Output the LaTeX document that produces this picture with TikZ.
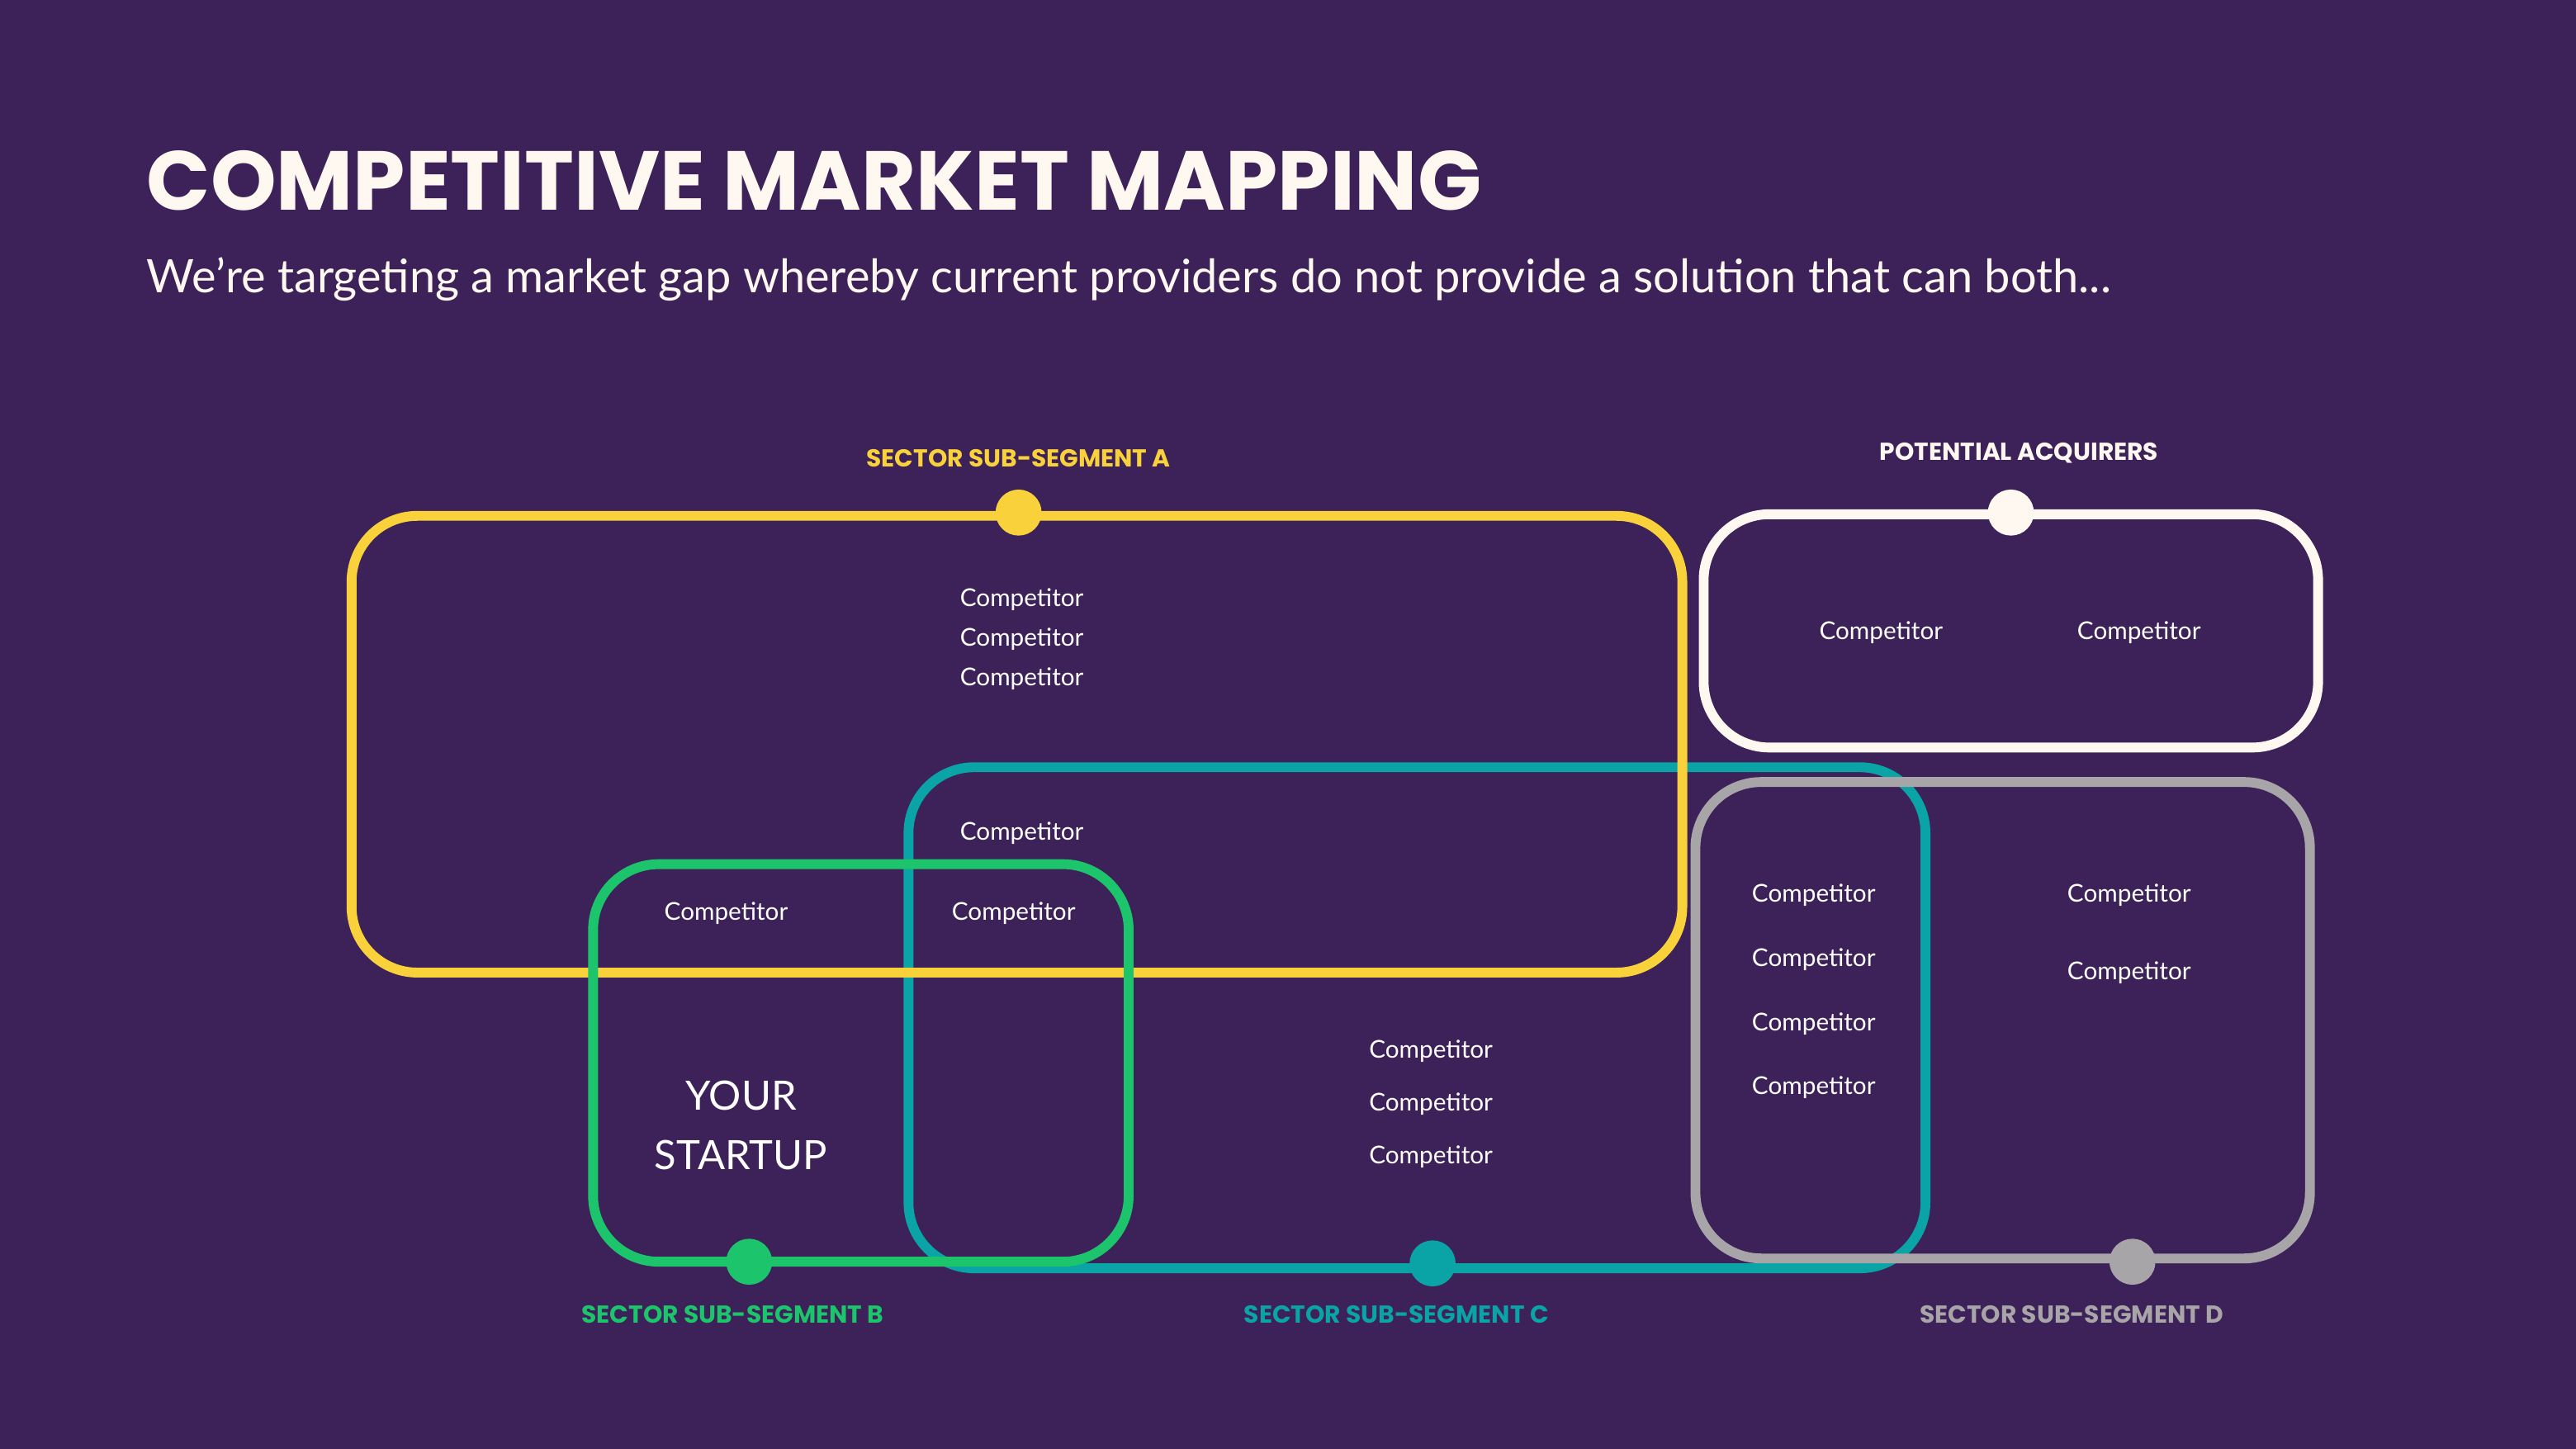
\documentclass[tikz,border=0pt]{standalone}
\usepackage{fontspec}
\setmainfont{Lato}
\newfontfamily\headfont{Poppins}
\definecolor{bgpurple}{HTML}{3D2159}
\definecolor{segA}{HTML}{F9D13A}
\definecolor{segB}{HTML}{1CC46B}
\definecolor{segC}{HTML}{0AA3A6}
\definecolor{segD}{HTML}{A8A5A8}
\definecolor{acq}{HTML}{FFF8F0}
\tikzstyle{seg} = [line width=3.4pt, rounded corners=0.8cm]
\tikzstyle{knob} = [circle, draw, line width=3.4pt, fill=bgpurple, minimum size=0.44cm, inner sep=0pt]
\tikzstyle{comp} = [text=white, font=\fontsize{8.5}{10}\selectfont]
\tikzstyle{seglabel} = [font=\headfont\bfseries\fontsize{8.5}{10}\selectfont]

\begin{document}
\begin{tikzpicture}[x=0.02cm, y=-0.02cm]
        \fill[bgpurple] (0,0) rectangle (1568,882);
        \useasboundingbox (0,0) rectangle (1568,882);

        \node[anchor=base west, text=acq, inner sep=0pt, font=\headfont\bfseries\fontsize{29}{32}\selectfont] (title) at (89,128) {COMPETITIVE MARKET MAPPING};
        \node[anchor=base west, text=acq, inner sep=0pt, font=\fontsize{16}{19}\selectfont] (sub) at (89,178) {We're targeting a market gap whereby current providers do not provide a solution that can both...};

        \draw[seg, segC] (553,467) rectangle (1172,772);
        \draw[seg, segD] (1032,476) rectangle (1406,766);
        \draw[seg, segA] (214,314) rectangle (1024,592);
        \draw[seg, acq] (1037,313) rectangle (1411,455);
        \draw[seg, segB] (361,526) rectangle (687,768);

        \node[knob, segA] (knobA) at (620,312) {};
        \node[knob, acq] (knobQ) at (1224,312) {};
        \node[knob, segB] (knobB) at (456,768) {};
        \node[knob, segC] (knobC) at (872,769) {};
        \node[knob, segD] (knobD) at (1298,768) {};

        \node[seglabel, text=segA] (labA) at (620,279) {SECTOR SUB-SEGMENT A};
        \node[seglabel, text=acq] (labQ) at (1229,276) {POTENTIAL ACQUIRERS};
        \node[seglabel, text=segB] (labB) at (446,800) {SECTOR SUB-SEGMENT B};
        \node[seglabel, text=segC] (labC) at (850,800) {SECTOR SUB-SEGMENT C};
        \node[seglabel, text=segD] (labD) at (1261,800) {SECTOR SUB-SEGMENT D};

        \foreach \x/\y [count=\i] in {622/365, 622/389, 622/413, 1145/385, 1302/385, 622/507, 442/556, 617/556,
            871/640, 871/672, 871/704, 1104/545, 1104/584, 1104/623, 1104/662, 1296/545, 1296/592}
        {\node[comp] (comp\i) at (\x,\y) {Competitor};}

        \node[text=white, align=center, font=\fontsize{14}{20.5}\selectfont] (startup) at (451,685) {YOUR\\STARTUP};
\end{tikzpicture}
\end{document}
